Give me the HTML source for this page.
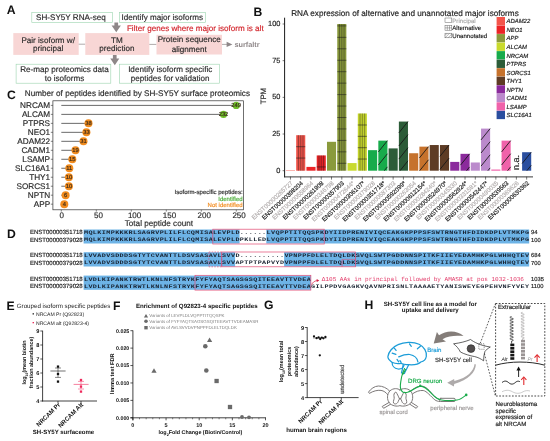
<!DOCTYPE html>
<html><head><meta charset="utf-8"><title>Figure</title>
<style>
html,body{margin:0;padding:0;background:#fff;}
body{width:550px;height:441px;overflow:hidden;font-family:"Liberation Sans",sans-serif;}
svg{display:block;font-family:"Liberation Sans",sans-serif;text-rendering:geometricPrecision;}
</style></head><body>
<svg width="550" height="441" viewBox="0 0 550 441">
<rect width="550" height="441" fill="#fff"/>
<g id="panelA">
<text x="6.70" y="13.80" font-size="12.2" fill="#111" font-weight="bold">A</text>
<rect x="31.80" y="12.60" width="80.80" height="9.80" fill="#fff" stroke="#9bd4ae" stroke-width="0.6"/>
<text x="70.90" y="20.10" font-size="8.1" text-anchor="middle" fill="#2a2a2a" stroke="#2a2a2a" stroke-width="0.16">SH-SY5Y RNA-seq</text>
<rect x="119.60" y="12.60" width="85.80" height="9.80" fill="#fff" stroke="#9bd4ae" stroke-width="0.6"/>
<text x="162.30" y="20.10" font-size="8.1" text-anchor="middle" fill="#2a2a2a" stroke="#2a2a2a" stroke-width="0.16">Identify major isoforms</text>
<path d="M114.4 22.6H118.1V25.6H120.9L116.25 32.2L111.6 25.6H114.4Z" fill="#8e8788"/>
<path d="M112.9 55H116.6V58.4H119.3L114.8 65.3L110.3 58.4H112.9Z" fill="#8e8788"/>
<text x="126.90" y="31.30" font-size="8.1" fill="#d2232a" stroke="#d2232a" stroke-width="0.16">Filter genes where major isoform is alt</text>
<rect x="13.30" y="33.10" width="65.40" height="21.80" fill="#f8d6d5"/>
<text x="48.20" y="42.50" font-size="8.1" text-anchor="middle" fill="#2a2a2a" stroke="#2a2a2a" stroke-width="0.16">Pair isoform w/</text>
<text x="48.20" y="51.20" font-size="8.1" text-anchor="middle" fill="#2a2a2a" stroke="#2a2a2a" stroke-width="0.16">principal</text>
<line x1="78.70" y1="44.20" x2="85.30" y2="44.20" stroke="#8e8788" stroke-width="0.7" />
<rect x="85.30" y="33.10" width="64.00" height="21.80" fill="#f8d6d5"/>
<text x="116.90" y="42.50" font-size="8.1" text-anchor="middle" fill="#2a2a2a" stroke="#2a2a2a" stroke-width="0.16">TM</text>
<text x="116.90" y="51.20" font-size="8.1" text-anchor="middle" fill="#2a2a2a" stroke="#2a2a2a" stroke-width="0.16">prediction</text>
<line x1="149.30" y1="44.40" x2="156.50" y2="44.40" stroke="#8e8788" stroke-width="0.7" />
<rect x="156.50" y="34.80" width="65.50" height="19.70" fill="#f8d6d5"/>
<text x="189.20" y="42.40" font-size="8.1" text-anchor="middle" fill="#2a2a2a" stroke="#2a2a2a" stroke-width="0.16">Protein sequence</text>
<text x="189.20" y="51.50" font-size="8.1" text-anchor="middle" fill="#2a2a2a" stroke="#2a2a2a" stroke-width="0.16">alignment</text>
<line x1="222.00" y1="44.40" x2="228.00" y2="44.40" stroke="#8e8788" stroke-width="0.7" />
<polygon points="226.6,41.8 232.4,44.4 226.6,47" fill="#8e8788"/>
<text x="234.50" y="46.70" font-size="7.3" fill="#8e8788" font-weight="bold">surfaltr</text>
<rect x="16.10" y="64.20" width="94.70" height="19.00" fill="#fff" stroke="#9bd4ae" stroke-width="0.6"/>
<text x="64.50" y="71.50" font-size="8.1" text-anchor="middle" fill="#2a2a2a" stroke="#2a2a2a" stroke-width="0.16">Re-map proteomics data</text>
<text x="64.50" y="80.60" font-size="8.1" text-anchor="middle" fill="#2a2a2a" stroke="#2a2a2a" stroke-width="0.16">to isoforms</text>
<rect x="119.40" y="64.20" width="100.00" height="19.00" fill="#fff" stroke="#9bd4ae" stroke-width="0.6"/>
<text x="170.20" y="71.50" font-size="8.1" text-anchor="middle" fill="#2a2a2a" stroke="#2a2a2a" stroke-width="0.16">Identify isoform specific</text>
<text x="170.20" y="80.60" font-size="8.1" text-anchor="middle" fill="#2a2a2a" stroke="#2a2a2a" stroke-width="0.16">peptides for validation</text>
</g>
<g id="panelB">
<text x="253.40" y="16.20" font-size="12.2" fill="#111" font-weight="bold">B</text>
<text x="291.20" y="15.50" font-size="8.2" fill="#222" stroke="#222" stroke-width="0.16">RNA expression of alternative and unannotated major isoforms</text>
<line x1="284.60" y1="17.70" x2="284.60" y2="177.30" stroke="#1a1a1a" stroke-width="1.0" />
<line x1="284.20" y1="176.90" x2="533.00" y2="176.90" stroke="#222" stroke-width="0.9" />
<line x1="282.60" y1="170.70" x2="284.60" y2="170.70" stroke="#222" stroke-width="0.6" />
<text x="280.40" y="172.80" font-size="7.4" text-anchor="end" fill="#222" stroke="#222" stroke-width="0.16">0</text>
<line x1="282.60" y1="134.02" x2="284.60" y2="134.02" stroke="#222" stroke-width="0.6" />
<text x="280.40" y="136.12" font-size="7.4" text-anchor="end" fill="#222" stroke="#222" stroke-width="0.16">25</text>
<line x1="282.60" y1="97.35" x2="284.60" y2="97.35" stroke="#222" stroke-width="0.6" />
<text x="280.40" y="99.45" font-size="7.4" text-anchor="end" fill="#222" stroke="#222" stroke-width="0.16">50</text>
<line x1="282.60" y1="60.67" x2="284.60" y2="60.67" stroke="#222" stroke-width="0.6" />
<text x="280.40" y="62.77" font-size="7.4" text-anchor="end" fill="#222" stroke="#222" stroke-width="0.16">75</text>
<line x1="282.60" y1="24.00" x2="284.60" y2="24.00" stroke="#222" stroke-width="0.6" />
<text x="280.40" y="26.10" font-size="7.4" text-anchor="end" fill="#222" stroke="#222" stroke-width="0.16">100</text>
<text x="266.10" y="96.10" font-size="7.8" text-anchor="middle" fill="#222" transform="rotate(-90 266.10 96.10)" stroke="#222" stroke-width="0.16">TPM</text>
<rect x="285.90" y="170.26" width="9.10" height="0.44" fill="#f4554b"/>
<line x1="290.45" y1="176.70" x2="290.45" y2="179.60" stroke="#222" stroke-width="0.6" />
<text x="293.25" y="183.60" font-size="6.1" text-anchor="end" fill="#b5b0b0" transform="rotate(-43 293.25 183.60)" stroke="#b5b0b0" stroke-width="0.16">ENST00000265727</text>
<rect x="296.17" y="135.20" width="9.10" height="35.50" fill="#f4554b"/>
<path d="M298.44 135.20V170.70M300.72 135.20V170.70M302.99 135.20V170.70" stroke="#1a1a1a" stroke-width="0.5" fill="none" opacity="0.8"/>
<path d="M297.31 135.20V170.70M299.58 135.20V170.70M301.86 135.20V170.70M304.13 135.20V170.70" stroke="#1a1a1a" stroke-width="0.4" fill="none" opacity="0.12"/>
<path d="M296.17 146.70H305.27M296.17 158.05H305.27" stroke="#1a1a1a" stroke-width="0.6" fill="none" opacity="0.9"/>
<line x1="300.72" y1="176.70" x2="300.72" y2="179.60" stroke="#222" stroke-width="0.6" />
<text x="303.52" y="183.60" font-size="6.1" text-anchor="end" fill="#222" transform="rotate(-43 303.52 183.60)" stroke="#222" stroke-width="0.16">ENST00000398204</text>
<rect x="306.44" y="166.89" width="9.10" height="3.81" fill="#ec2427"/>
<line x1="310.99" y1="176.70" x2="310.99" y2="179.60" stroke="#222" stroke-width="0.6" />
<text x="313.79" y="183.60" font-size="6.1" text-anchor="end" fill="#b5b0b0" transform="rotate(-43 313.79 183.60)" stroke="#b5b0b0" stroke-width="0.16">ENST00000558964</text>
<rect x="316.71" y="155.44" width="9.10" height="15.26" fill="#ec2427"/>
<path d="M318.98 155.44V170.70M321.26 155.44V170.70M323.53 155.44V170.70" stroke="#1a1a1a" stroke-width="0.5" fill="none" opacity="0.8"/>
<path d="M317.85 155.44V170.70M320.12 155.44V170.70M322.40 155.44V170.70M324.67 155.44V170.70" stroke="#1a1a1a" stroke-width="0.4" fill="none" opacity="0.12"/>
<path d="M316.71 166.94H325.81" stroke="#1a1a1a" stroke-width="0.6" fill="none" opacity="0.9"/>
<line x1="321.26" y1="176.70" x2="321.26" y2="179.60" stroke="#222" stroke-width="0.6" />
<text x="324.06" y="183.60" font-size="6.1" text-anchor="end" fill="#222" transform="rotate(-43 324.06 183.60)" stroke="#222" stroke-width="0.16">ENST00000261908</text>
<rect x="326.98" y="141.80" width="9.10" height="28.90" fill="#8a9a3c"/>
<line x1="331.53" y1="176.70" x2="331.53" y2="179.60" stroke="#222" stroke-width="0.6" />
<text x="334.33" y="183.60" font-size="6.1" text-anchor="end" fill="#b5b0b0" transform="rotate(-43 334.33 183.60)" stroke="#b5b0b0" stroke-width="0.16">ENST00000346798</text>
<rect x="337.25" y="24.00" width="9.10" height="146.70" fill="#8a9a3c"/>
<path d="M339.52 24.00V170.70M341.80 24.00V170.70M344.07 24.00V170.70" stroke="#1a1a1a" stroke-width="0.5" fill="none" opacity="0.8"/>
<path d="M338.39 24.00V170.70M340.66 24.00V170.70M342.94 24.00V170.70M345.21 24.00V170.70" stroke="#1a1a1a" stroke-width="0.4" fill="none" opacity="0.12"/>
<path d="M337.25 163.30H346.35M337.25 151.85H346.35M337.25 140.40H346.35M337.25 128.95H346.35M337.25 117.50H346.35M337.25 106.05H346.35M337.25 94.60H346.35M337.25 83.15H346.35M337.25 71.70H346.35M337.25 60.25H346.35M337.25 48.80H346.35M337.25 37.35H346.35M337.25 25.90H346.35" stroke="#1a1a1a" stroke-width="0.6" fill="none" opacity="0.9"/>
<line x1="341.80" y1="176.70" x2="341.80" y2="179.60" stroke="#222" stroke-width="0.6" />
<text x="344.60" y="183.60" font-size="6.1" text-anchor="end" fill="#222" transform="rotate(-43 344.60 183.60)" stroke="#222" stroke-width="0.16">ENST00000357903</text>
<rect x="347.52" y="163.07" width="9.10" height="7.63" fill="#c9da2d"/>
<line x1="352.07" y1="176.70" x2="352.07" y2="179.60" stroke="#222" stroke-width="0.6" />
<text x="354.87" y="183.60" font-size="6.1" text-anchor="end" fill="#b5b0b0" transform="rotate(-43 354.87 183.60)" stroke="#b5b0b0" stroke-width="0.16">ENST00000472644*</text>
<rect x="357.79" y="113.49" width="9.10" height="57.21" fill="#c9da2d"/>
<path d="M360.06 113.49V170.70M362.34 113.49V170.70M364.61 113.49V170.70" stroke="#1a1a1a" stroke-width="0.5" fill="none" opacity="0.8"/>
<path d="M358.93 113.49V170.70M361.20 113.49V170.70M363.48 113.49V170.70M365.75 113.49V170.70" stroke="#1a1a1a" stroke-width="0.4" fill="none" opacity="0.12"/>
<path d="M357.79 124.99H366.89M357.79 136.34H366.89M357.79 147.69H366.89M357.79 159.04H366.89" stroke="#1a1a1a" stroke-width="0.6" fill="none" opacity="0.9"/>
<line x1="362.34" y1="176.70" x2="362.34" y2="179.60" stroke="#222" stroke-width="0.6" />
<text x="365.14" y="183.60" font-size="6.1" text-anchor="end" fill="#222" transform="rotate(-43 365.14 183.60)" stroke="#222" stroke-width="0.16">ENST00000306107*</text>
<rect x="368.06" y="150.16" width="9.10" height="20.54" fill="#17ab4b"/>
<line x1="372.61" y1="176.70" x2="372.61" y2="179.60" stroke="#222" stroke-width="0.6" />
<text x="375.41" y="183.60" font-size="6.1" text-anchor="end" fill="#b5b0b0" transform="rotate(-43 375.41 183.60)" stroke="#b5b0b0" stroke-width="0.16">ENST00000379028</text>
<rect x="378.33" y="140.63" width="9.10" height="30.07" fill="#17ab4b"/>
<path d="M378.33 151.93L387.43 140.63M378.33 165.03L387.43 153.73M384.31 170.70L387.43 166.83" stroke="#151515" stroke-width="0.85" fill="none"/>
<line x1="382.88" y1="176.70" x2="382.88" y2="179.60" stroke="#222" stroke-width="0.6" />
<text x="385.68" y="183.60" font-size="6.1" text-anchor="end" fill="#222" transform="rotate(-43 385.68 183.60)" stroke="#222" stroke-width="0.16">ENST00000351718*</text>
<rect x="388.60" y="148.40" width="9.10" height="22.30" fill="#2c5c38"/>
<line x1="393.15" y1="176.70" x2="393.15" y2="179.60" stroke="#222" stroke-width="0.6" />
<text x="395.95" y="183.60" font-size="6.1" text-anchor="end" fill="#b5b0b0" transform="rotate(-43 395.95 183.60)" stroke="#b5b0b0" stroke-width="0.16">ENST00000587303</text>
<rect x="398.87" y="121.56" width="9.10" height="49.14" fill="#2c5c38"/>
<path d="M398.87 132.86L407.97 121.56M398.87 145.96L407.97 134.66M398.87 159.06L407.97 147.76M400.04 170.70L407.97 160.86" stroke="#151515" stroke-width="0.85" fill="none"/>
<line x1="403.42" y1="176.70" x2="403.42" y2="179.60" stroke="#222" stroke-width="0.6" />
<text x="406.22" y="183.60" font-size="6.1" text-anchor="end" fill="#222" transform="rotate(-43 406.22 183.60)" stroke="#222" stroke-width="0.16">ENST00000592099*</text>
<rect x="409.14" y="153.24" width="9.10" height="17.46" fill="#c6722c"/>
<line x1="413.69" y1="176.70" x2="413.69" y2="179.60" stroke="#222" stroke-width="0.6" />
<text x="416.49" y="183.60" font-size="6.1" text-anchor="end" fill="#b5b0b0" transform="rotate(-43 416.49 183.60)" stroke="#b5b0b0" stroke-width="0.16">ENST00000263054</text>
<rect x="419.41" y="146.64" width="9.10" height="24.06" fill="#c6722c"/>
<path d="M419.41 157.94L428.51 146.64M419.68 170.70L428.51 159.74" stroke="#151515" stroke-width="0.85" fill="none"/>
<line x1="423.96" y1="176.70" x2="423.96" y2="179.60" stroke="#222" stroke-width="0.6" />
<text x="426.76" y="183.60" font-size="6.1" text-anchor="end" fill="#222" transform="rotate(-43 426.76 183.60)" stroke="#222" stroke-width="0.16">ENST00000612154*</text>
<rect x="429.68" y="145.03" width="9.10" height="25.67" fill="#5e3c25"/>
<line x1="434.23" y1="176.70" x2="434.23" y2="179.60" stroke="#222" stroke-width="0.6" />
<text x="437.03" y="183.60" font-size="6.1" text-anchor="end" fill="#b5b0b0" transform="rotate(-43 437.03 183.60)" stroke="#b5b0b0" stroke-width="0.16">ENST00000284240*</text>
<rect x="439.95" y="145.03" width="9.10" height="25.67" fill="#5e3c25"/>
<path d="M439.95 156.33L449.05 145.03M439.95 169.43L449.05 158.13" stroke="#151515" stroke-width="0.85" fill="none"/>
<line x1="444.50" y1="176.70" x2="444.50" y2="179.60" stroke="#222" stroke-width="0.6" />
<text x="447.30" y="183.60" font-size="6.1" text-anchor="end" fill="#222" transform="rotate(-43 447.30 183.60)" stroke="#222" stroke-width="0.16">ENST00000524970*</text>
<rect x="450.22" y="161.90" width="9.10" height="8.80" fill="#8b2a9c"/>
<line x1="454.77" y1="176.70" x2="454.77" y2="179.60" stroke="#222" stroke-width="0.6" />
<text x="457.57" y="183.60" font-size="6.1" text-anchor="end" fill="#b5b0b0" transform="rotate(-43 457.57 183.60)" stroke="#b5b0b0" stroke-width="0.16">ENST00000345330</text>
<rect x="460.49" y="153.83" width="9.10" height="16.87" fill="#8b2a9c"/>
<path d="M460.49 165.13L469.59 153.83M466.55 170.70L469.59 166.93" stroke="#151515" stroke-width="0.85" fill="none"/>
<line x1="465.04" y1="176.70" x2="465.04" y2="179.60" stroke="#222" stroke-width="0.6" />
<text x="467.84" y="183.60" font-size="6.1" text-anchor="end" fill="#222" transform="rotate(-43 467.84 183.60)" stroke="#222" stroke-width="0.16">ENST00000562924*</text>
<rect x="470.76" y="162.48" width="9.10" height="8.22" fill="#bb8acc"/>
<line x1="475.31" y1="176.70" x2="475.31" y2="179.60" stroke="#222" stroke-width="0.6" />
<text x="478.11" y="183.60" font-size="6.1" text-anchor="end" fill="#b5b0b0" transform="rotate(-43 478.11 183.60)" stroke="#b5b0b0" stroke-width="0.16">ENST00000331581*</text>
<rect x="481.03" y="128.60" width="9.10" height="42.10" fill="#bb8acc"/>
<path d="M481.03 139.90L490.13 128.60M481.03 153.00L490.13 141.70M481.03 166.10L490.13 154.80M487.87 170.70L490.13 167.90" stroke="#151515" stroke-width="0.85" fill="none"/>
<line x1="485.58" y1="176.70" x2="485.58" y2="179.60" stroke="#222" stroke-width="0.6" />
<text x="488.38" y="183.60" font-size="6.1" text-anchor="end" fill="#222" transform="rotate(-43 488.38 183.60)" stroke="#222" stroke-width="0.16">ENST00000542447*</text>
<rect x="491.30" y="169.53" width="9.10" height="1.17" fill="#f062aa"/>
<line x1="495.85" y1="176.70" x2="495.85" y2="179.60" stroke="#222" stroke-width="0.6" />
<text x="498.65" y="183.60" font-size="6.1" text-anchor="end" fill="#b5b0b0" transform="rotate(-43 498.65 183.60)" stroke="#b5b0b0" stroke-width="0.16">ENST00000490035</text>
<rect x="501.57" y="140.63" width="9.10" height="30.07" fill="#f062aa"/>
<path d="M501.57 151.93L510.67 140.63M501.57 165.03L510.67 153.73M507.55 170.70L510.67 166.83" stroke="#151515" stroke-width="0.85" fill="none"/>
<line x1="506.12" y1="176.70" x2="506.12" y2="179.60" stroke="#222" stroke-width="0.6" />
<text x="508.92" y="183.60" font-size="6.1" text-anchor="end" fill="#222" transform="rotate(-43 508.92 183.60)" stroke="#222" stroke-width="0.16">ENST00000539563</text>
<text x="518.99" y="170.00" font-size="9" fill="#222" transform="rotate(-90 518.99 170.00)" stroke="#222" stroke-width="0.16">n.a.</text>
<line x1="516.39" y1="176.70" x2="516.39" y2="179.60" stroke="#222" stroke-width="0.6" />
<text x="519.19" y="183.60" font-size="6.1" text-anchor="end" fill="#b5b0b0" transform="rotate(-43 519.19 183.60)" stroke="#b5b0b0" stroke-width="0.16">ENST00000369626</text>
<rect x="522.11" y="152.22" width="9.10" height="18.48" fill="#2a4e9f"/>
<path d="M522.11 163.52L531.21 152.22M526.87 170.70L531.21 165.32" stroke="#151515" stroke-width="0.85" fill="none"/>
<line x1="526.66" y1="176.70" x2="526.66" y2="179.60" stroke="#222" stroke-width="0.6" />
<text x="529.46" y="183.60" font-size="6.1" text-anchor="end" fill="#222" transform="rotate(-43 529.46 183.60)" stroke="#222" stroke-width="0.16">ENST00000630362</text>
<rect x="445.00" y="18.00" width="6.80" height="4.60" fill="#fff" stroke="#555" stroke-width="0.45"/>
<text x="452.30" y="22.60" font-size="6.1" fill="#aaa" stroke="#aaa" stroke-width="0.16">Principal</text>
<rect x="445.00" y="25.60" width="6.80" height="4.60" fill="#fff" stroke="#555" stroke-width="0.45"/>
<path d="M447.3 25.6v4.6M449.5 25.6v4.6M445 27.900000000000002h6.8" stroke="#444" stroke-width="0.4" fill="none"/>
<text x="452.30" y="30.20" font-size="6.1" fill="#222" stroke="#222" stroke-width="0.16">Alternative</text>
<rect x="445.00" y="33.20" width="6.80" height="4.60" fill="#fff" stroke="#555" stroke-width="0.45"/>
<path d="M445 37.800000000000004L449.6 33.2M448 37.800000000000004L451.8 34.0M445 35.400000000000006L447.2 33.2" stroke="#444" stroke-width="0.4" fill="none"/>
<text x="452.30" y="37.80" font-size="6.1" fill="#222" stroke="#222" stroke-width="0.16">Unannotated</text>
<rect x="496.60" y="17.00" width="8.40" height="8.30" fill="#f4554b"/>
<text x="506.60" y="23.40" font-size="5.9" fill="#1a1a1a" font-style="italic" stroke="#1a1a1a" stroke-width="0.16">ADAM22</text>
<rect x="496.60" y="25.53" width="8.40" height="8.30" fill="#ec2427"/>
<text x="506.60" y="31.93" font-size="5.9" fill="#1a1a1a" font-style="italic" stroke="#1a1a1a" stroke-width="0.16">NEO1</text>
<rect x="496.60" y="34.06" width="8.40" height="8.30" fill="#8a9a3c"/>
<text x="506.60" y="40.46" font-size="5.9" fill="#1a1a1a" font-style="italic" stroke="#1a1a1a" stroke-width="0.16">APP</text>
<rect x="496.60" y="42.59" width="8.40" height="8.30" fill="#c9da2d"/>
<text x="506.60" y="48.99" font-size="5.9" fill="#1a1a1a" font-style="italic" stroke="#1a1a1a" stroke-width="0.16">ALCAM</text>
<rect x="496.60" y="51.12" width="8.40" height="8.30" fill="#17ab4b"/>
<text x="506.60" y="57.52" font-size="5.9" fill="#1a1a1a" font-style="italic" stroke="#1a1a1a" stroke-width="0.16">NRCAM</text>
<rect x="496.60" y="59.65" width="8.40" height="8.30" fill="#2c5c38"/>
<text x="506.60" y="66.05" font-size="5.9" fill="#1a1a1a" font-style="italic" stroke="#1a1a1a" stroke-width="0.16">PTPRS</text>
<rect x="496.60" y="68.18" width="8.40" height="8.30" fill="#c6722c"/>
<text x="506.60" y="74.58" font-size="5.9" fill="#1a1a1a" font-style="italic" stroke="#1a1a1a" stroke-width="0.16">SORCS1</text>
<rect x="496.60" y="76.71" width="8.40" height="8.30" fill="#5e3c25"/>
<text x="506.60" y="83.11" font-size="5.9" fill="#1a1a1a" font-style="italic" stroke="#1a1a1a" stroke-width="0.16">THY1</text>
<rect x="496.60" y="85.24" width="8.40" height="8.30" fill="#8b2a9c"/>
<text x="506.60" y="91.64" font-size="5.9" fill="#1a1a1a" font-style="italic" stroke="#1a1a1a" stroke-width="0.16">NPTN</text>
<rect x="496.60" y="93.77" width="8.40" height="8.30" fill="#bb8acc"/>
<text x="506.60" y="100.17" font-size="5.9" fill="#1a1a1a" font-style="italic" stroke="#1a1a1a" stroke-width="0.16">CADM1</text>
<rect x="496.60" y="102.30" width="8.40" height="8.30" fill="#f062aa"/>
<text x="506.60" y="108.70" font-size="5.9" fill="#1a1a1a" font-style="italic" stroke="#1a1a1a" stroke-width="0.16">LSAMP</text>
<rect x="496.60" y="110.83" width="8.40" height="8.30" fill="#2a4e9f"/>
<text x="506.60" y="117.23" font-size="5.9" fill="#1a1a1a" font-style="italic" stroke="#1a1a1a" stroke-width="0.16">SLC16A1</text>
</g>
<g id="panelC">
<text x="7.10" y="99.00" font-size="12.2" fill="#111" font-weight="bold">C</text>
<text x="24.80" y="96.30" font-size="8.17" fill="#2a2a2a" stroke="#2a2a2a" stroke-width="0.16">Number of peptides identified by SH-SY5Y surface proteomics</text>
<rect x="52.90" y="100.80" width="190.60" height="109.00" fill="#fff" stroke="#333" stroke-width="0.7"/>
<text x="50.10" y="108.00" font-size="8.2" text-anchor="end" fill="#2a2a2a" stroke="#2a2a2a" stroke-width="0.16">NRCAM</text>
<line x1="50.80" y1="105.40" x2="52.90" y2="105.40" stroke="#333" stroke-width="0.6" />
<line x1="61.30" y1="105.40" x2="236.20" y2="105.40" stroke="#444" stroke-width="0.8" />
<circle cx="236.20" cy="105.40" r="3.6" fill="#6fbe2a"/>
<text x="236.20" y="107.45" font-size="5.8" text-anchor="middle" fill="#3a2a18" stroke="#3a2a18" stroke-width="0.16">249</text>
<text x="50.10" y="116.98" font-size="8.2" text-anchor="end" fill="#2a2a2a" stroke="#2a2a2a" stroke-width="0.16">ALCAM</text>
<line x1="50.80" y1="114.38" x2="52.90" y2="114.38" stroke="#333" stroke-width="0.6" />
<line x1="61.30" y1="114.38" x2="223.50" y2="114.38" stroke="#444" stroke-width="0.8" />
<circle cx="223.50" cy="114.38" r="3.6" fill="#6fbe2a"/>
<text x="223.50" y="116.43" font-size="5.8" text-anchor="middle" fill="#3a2a18" stroke="#3a2a18" stroke-width="0.16">232</text>
<text x="50.10" y="125.96" font-size="8.2" text-anchor="end" fill="#2a2a2a" stroke="#2a2a2a" stroke-width="0.16">PTPRS</text>
<line x1="50.80" y1="123.36" x2="52.90" y2="123.36" stroke="#333" stroke-width="0.6" />
<line x1="61.30" y1="123.36" x2="88.50" y2="123.36" stroke="#444" stroke-width="0.8" />
<circle cx="88.50" cy="123.36" r="4.0" fill="#f28c1e"/>
<text x="88.50" y="125.41" font-size="5.8" text-anchor="middle" fill="#3a2a18" stroke="#3a2a18" stroke-width="0.16">38</text>
<text x="50.10" y="134.94" font-size="8.2" text-anchor="end" fill="#2a2a2a" stroke="#2a2a2a" stroke-width="0.16">NEO1</text>
<line x1="50.80" y1="132.34" x2="52.90" y2="132.34" stroke="#333" stroke-width="0.6" />
<line x1="61.30" y1="132.34" x2="86.40" y2="132.34" stroke="#444" stroke-width="0.8" />
<circle cx="86.40" cy="132.34" r="4.0" fill="#f28c1e"/>
<text x="86.40" y="134.39" font-size="5.8" text-anchor="middle" fill="#3a2a18" stroke="#3a2a18" stroke-width="0.16">33</text>
<text x="50.10" y="143.92" font-size="8.2" text-anchor="end" fill="#2a2a2a" stroke="#2a2a2a" stroke-width="0.16">ADAM22</text>
<line x1="50.80" y1="141.32" x2="52.90" y2="141.32" stroke="#333" stroke-width="0.6" />
<line x1="61.30" y1="141.32" x2="83.50" y2="141.32" stroke="#444" stroke-width="0.8" />
<circle cx="83.50" cy="141.32" r="4.0" fill="#f28c1e"/>
<text x="83.50" y="143.37" font-size="5.8" text-anchor="middle" fill="#3a2a18" stroke="#3a2a18" stroke-width="0.16">31</text>
<text x="50.10" y="152.90" font-size="8.2" text-anchor="end" fill="#2a2a2a" stroke="#2a2a2a" stroke-width="0.16">CADM1</text>
<line x1="50.80" y1="150.30" x2="52.90" y2="150.30" stroke="#333" stroke-width="0.6" />
<line x1="61.30" y1="150.30" x2="75.50" y2="150.30" stroke="#444" stroke-width="0.8" />
<circle cx="75.50" cy="150.30" r="4.0" fill="#f28c1e"/>
<text x="75.50" y="152.35" font-size="5.8" text-anchor="middle" fill="#3a2a18" stroke="#3a2a18" stroke-width="0.16">19</text>
<text x="50.10" y="161.88" font-size="8.2" text-anchor="end" fill="#2a2a2a" stroke="#2a2a2a" stroke-width="0.16">LSAMP</text>
<line x1="50.80" y1="159.28" x2="52.90" y2="159.28" stroke="#333" stroke-width="0.6" />
<line x1="61.30" y1="159.28" x2="72.30" y2="159.28" stroke="#444" stroke-width="0.8" />
<circle cx="72.30" cy="159.28" r="4.0" fill="#f28c1e"/>
<text x="72.30" y="161.33" font-size="5.8" text-anchor="middle" fill="#3a2a18" stroke="#3a2a18" stroke-width="0.16">15</text>
<text x="50.10" y="170.86" font-size="8.2" text-anchor="end" fill="#2a2a2a" stroke="#2a2a2a" stroke-width="0.16">SLC16A1</text>
<line x1="50.80" y1="168.26" x2="52.90" y2="168.26" stroke="#333" stroke-width="0.6" />
<line x1="61.30" y1="168.26" x2="69.30" y2="168.26" stroke="#444" stroke-width="0.8" />
<circle cx="69.30" cy="168.26" r="4.0" fill="#f28c1e"/>
<text x="69.30" y="170.31" font-size="5.8" text-anchor="middle" fill="#3a2a18" stroke="#3a2a18" stroke-width="0.16">11</text>
<text x="50.10" y="179.84" font-size="8.2" text-anchor="end" fill="#2a2a2a" stroke="#2a2a2a" stroke-width="0.16">THY1</text>
<line x1="50.80" y1="177.24" x2="52.90" y2="177.24" stroke="#333" stroke-width="0.6" />
<line x1="61.30" y1="177.24" x2="68.90" y2="177.24" stroke="#444" stroke-width="0.8" />
<circle cx="68.90" cy="177.24" r="4.0" fill="#f28c1e"/>
<text x="68.90" y="179.29" font-size="5.8" text-anchor="middle" fill="#3a2a18" stroke="#3a2a18" stroke-width="0.16">10</text>
<text x="50.10" y="188.82" font-size="8.2" text-anchor="end" fill="#2a2a2a" stroke="#2a2a2a" stroke-width="0.16">SORCS1</text>
<line x1="50.80" y1="186.22" x2="52.90" y2="186.22" stroke="#333" stroke-width="0.6" />
<line x1="61.30" y1="186.22" x2="68.90" y2="186.22" stroke="#444" stroke-width="0.8" />
<circle cx="68.90" cy="186.22" r="4.0" fill="#f28c1e"/>
<text x="68.90" y="188.27" font-size="5.8" text-anchor="middle" fill="#3a2a18" stroke="#3a2a18" stroke-width="0.16">10</text>
<text x="50.10" y="197.80" font-size="8.2" text-anchor="end" fill="#2a2a2a" stroke="#2a2a2a" stroke-width="0.16">NPTN</text>
<line x1="50.80" y1="195.20" x2="52.90" y2="195.20" stroke="#333" stroke-width="0.6" />
<line x1="61.30" y1="195.20" x2="65.60" y2="195.20" stroke="#444" stroke-width="0.8" />
<circle cx="65.60" cy="195.20" r="4.0" fill="#f28c1e"/>
<text x="65.60" y="197.25" font-size="5.8" text-anchor="middle" fill="#3a2a18" stroke="#3a2a18" stroke-width="0.16">6</text>
<text x="50.10" y="206.78" font-size="8.2" text-anchor="end" fill="#2a2a2a" stroke="#2a2a2a" stroke-width="0.16">APP</text>
<line x1="50.80" y1="204.18" x2="52.90" y2="204.18" stroke="#333" stroke-width="0.6" />
<line x1="61.30" y1="204.18" x2="64.30" y2="204.18" stroke="#444" stroke-width="0.8" />
<circle cx="64.30" cy="204.18" r="4.0" fill="#f28c1e"/>
<text x="64.30" y="206.23" font-size="5.8" text-anchor="middle" fill="#3a2a18" stroke="#3a2a18" stroke-width="0.16">4</text>
<line x1="61.30" y1="209.80" x2="61.30" y2="211.60" stroke="#333" stroke-width="0.6" />
<text x="61.80" y="218.40" font-size="8" text-anchor="middle" fill="#2a2a2a" stroke="#2a2a2a" stroke-width="0.16">0</text>
<line x1="96.30" y1="209.80" x2="96.30" y2="211.60" stroke="#333" stroke-width="0.6" />
<text x="98.50" y="218.40" font-size="8" text-anchor="middle" fill="#2a2a2a" stroke="#2a2a2a" stroke-width="0.16">50</text>
<line x1="131.30" y1="209.80" x2="131.30" y2="211.60" stroke="#333" stroke-width="0.6" />
<text x="134.60" y="218.40" font-size="8" text-anchor="middle" fill="#2a2a2a" stroke="#2a2a2a" stroke-width="0.16">100</text>
<line x1="166.30" y1="209.80" x2="166.30" y2="211.60" stroke="#333" stroke-width="0.6" />
<text x="169.50" y="218.40" font-size="8" text-anchor="middle" fill="#2a2a2a" stroke="#2a2a2a" stroke-width="0.16">150</text>
<line x1="201.30" y1="209.80" x2="201.30" y2="211.60" stroke="#333" stroke-width="0.6" />
<text x="204.20" y="218.40" font-size="8" text-anchor="middle" fill="#2a2a2a" stroke="#2a2a2a" stroke-width="0.16">200</text>
<line x1="236.30" y1="209.80" x2="236.30" y2="211.60" stroke="#333" stroke-width="0.6" />
<text x="239.10" y="218.40" font-size="8" text-anchor="middle" fill="#2a2a2a" stroke="#2a2a2a" stroke-width="0.16">250</text>
<text x="158.90" y="225.60" font-size="8.15" text-anchor="middle" fill="#2a2a2a" stroke="#2a2a2a" stroke-width="0.16">Total peptide count</text>
<text x="242.60" y="194.20" font-size="6.0" text-anchor="end" fill="#2a2a2a" stroke="#2a2a2a" stroke-width="0.16">Isoform-specific peptides:</text>
<text x="242.60" y="200.80" font-size="6.0" text-anchor="end" fill="#4cae3a" stroke="#4cae3a" stroke-width="0.16">Identified</text>
<text x="242.60" y="207.30" font-size="6.0" text-anchor="end" fill="#f28c1e" stroke="#f28c1e" stroke-width="0.16">Not identified</text>
</g>
<g id="panelD">
<text x="7.00" y="238.00" font-size="12.2" fill="#111" font-weight="bold">D</text>
<rect x="83.60" y="229.50" width="155.96" height="14.00" fill="#6db3e6"/>
<rect x="266.30" y="229.50" width="262.90" height="14.00" fill="#6db3e6"/>
<rect x="83.60" y="252.20" width="151.50" height="14.30" fill="#6db3e6"/>
<rect x="284.12" y="252.20" width="245.08" height="14.30" fill="#6db3e6"/>
<rect x="83.60" y="275.60" width="227.26" height="14.20" fill="#6db3e6"/>
<text x="30.00" y="234.30" font-size="6.0" fill="#222" stroke="#222" stroke-width="0.16">ENST00000351718</text>
<text transform="translate(83.95 233.90) scale(1.28 1)" font-family="Liberation Mono, monospace" font-weight="bold" font-size="5.3" letter-spacing="0.301" fill="#16202e" xml:space="preserve">MQLKIMPKKKRLSAGRVPLILFLCQMISALEVPLD......LVQPPTITQQSPKDYIIDPRENIVIQCEAKGKPPPSFSWTRNGTHFDIDKDPLVTMKPG</text>
<text x="531.00" y="234.30" font-size="5.8" fill="#222" stroke="#222" stroke-width="0.16">94</text>
<text x="30.00" y="241.60" font-size="6.0" fill="#222" stroke="#222" stroke-width="0.16">ENST00000379028</text>
<text transform="translate(83.95 241.20) scale(1.28 1)" font-family="Liberation Mono, monospace" font-weight="bold" font-size="5.3" letter-spacing="0.301" fill="#16202e" xml:space="preserve">MQLKIMPKKKRLSAGRVPLILFLCQMISALEVPLDPKLLEDLVQPPTITQQSPKDYIIDPRENIVIQCEAKGKPPPSFSWTRNGTHFDIDKDPLVTMKPG</text>
<text x="531.00" y="241.60" font-size="5.8" fill="#222" stroke="#222" stroke-width="0.16">100</text>
<text x="30.00" y="257.30" font-size="6.0" fill="#222" stroke="#222" stroke-width="0.16">ENST00000351718</text>
<text transform="translate(83.95 256.90) scale(1.28 1)" font-family="Liberation Mono, monospace" font-weight="bold" font-size="5.3" letter-spacing="0.301" fill="#16202e" xml:space="preserve">LVVADVSDDDSGTYTCVANTTLDSVSASAVLSVVD..........VPNPPFDLELTDQLDKSVQLSWTPGDDNNSPITKFIIEYEDAMHKPGLWHHQTEV</text>
<text x="531.00" y="257.30" font-size="5.8" fill="#222" stroke="#222" stroke-width="0.16">684</text>
<text x="30.00" y="264.60" font-size="6.0" fill="#222" stroke="#222" stroke-width="0.16">ENST00000379028</text>
<text transform="translate(83.95 264.20) scale(1.28 1)" font-family="Liberation Mono, monospace" font-weight="bold" font-size="5.3" letter-spacing="0.301" fill="#16202e" xml:space="preserve">LVVADVSDDDSGTYTCVANTTLDSVSASAVLSVVAPTPTPAPVYDVPNPPFDLELTDQLDKSVQLSWTPGDDNNSPITKFIIEYEDAMHKPGLWHHQTEV</text>
<text x="531.00" y="264.60" font-size="5.8" fill="#222" stroke="#222" stroke-width="0.16">700</text>
<text x="30.00" y="280.90" font-size="6.0" fill="#222" stroke="#222" stroke-width="0.16">ENST00000351718</text>
<text transform="translate(83.95 280.50) scale(1.28 1)" font-family="Liberation Mono, monospace" font-weight="bold" font-size="5.3" letter-spacing="0.301" fill="#16202e" xml:space="preserve">LVDLKIPANKTRWTLKNLNFSTRYKFYFYAQTSAGSGSQITEEAVTTVDEA</text>
<text x="531.00" y="280.90" font-size="5.8" fill="#222" stroke="#222" stroke-width="0.16">1035</text>
<text x="30.00" y="288.20" font-size="6.0" fill="#222" stroke="#222" stroke-width="0.16">ENST00000379028</text>
<text transform="translate(83.95 287.80) scale(1.28 1)" font-family="Liberation Mono, monospace" font-weight="bold" font-size="5.3" letter-spacing="0.301" fill="#16202e" xml:space="preserve">LVDLKIPANKTRWTLKNLNFSTRYKFYFYAQTSAGSGSQITEEAVTTVDEAGILPPDVGAGKVQAVNPRISNLTAAAAETYANISWEYEGPEHVNFYVEY</text>
<text x="531.00" y="288.20" font-size="5.8" fill="#222" stroke="#222" stroke-width="0.16">1100</text>
<rect x="212.82" y="229.20" width="111.40" height="14.80" fill="none" stroke="#e24a72" stroke-width="0.7"/>
<rect x="208.87" y="252.00" width="12.87" height="14.80" fill="none" stroke="#e24a72" stroke-width="0.7" stroke-dasharray="1.6 1.2"/>
<rect x="221.74" y="252.00" width="133.68" height="14.80" fill="none" stroke="#e24a72" stroke-width="0.7"/>
<line x1="342.05" y1="259.40" x2="342.05" y2="266.80" stroke="#e24a72" stroke-width="0.7" />
<line x1="342.05" y1="259.40" x2="355.42" y2="259.40" stroke="#e24a72" stroke-width="0.5" />
<rect x="195.00" y="275.30" width="115.86" height="14.80" fill="none" stroke="#e24a72" stroke-width="0.7"/>
<path d="M311.6 284.8C312.5 282.3 314.5 281 317 280.6" stroke="#d8193f" stroke-width="0.7" fill="none"/>
<polygon points="316.6,279.1 319.3,280.4 316.8,282.1" fill="#d8193f"/>
<text x="321.8" y="280.5" font-family="Liberation Mono, monospace" font-size="6.03" fill="#e23a68" xml:space="preserve">Δ105 AAs in principal followed by AMASR at pos 1032-1036</text>
</g>
<g id="panelE">
<text x="6.50" y="309.70" font-size="12.2" fill="#111" font-weight="bold">E</text>
<text x="16.80" y="307.70" font-size="6.2" fill="#222" font-weight="normal">Grouped isoform specific peptides</text>
<rect x="32.60" y="313.20" width="1.30" height="1.30" fill="#111"/>
<text x="36.00" y="316.00" font-size="5.1" fill="#222">NRCAM Pr (Q92823)</text>
<rect x="32.60" y="322.00" width="1.30" height="1.30" fill="#e8174b"/>
<text x="36.00" y="324.80" font-size="5.1" fill="#222">NRCAM alt (Q92823-4)</text>
<line x1="42.60" y1="330.70" x2="42.60" y2="401.40" stroke="#111" stroke-width="0.8" />
<line x1="42.20" y1="401.00" x2="97.00" y2="401.00" stroke="#111" stroke-width="0.8" />
<line x1="40.30" y1="401.00" x2="42.60" y2="401.00" stroke="#111" stroke-width="0.7" />
<text x="39.40" y="403.00" font-size="5.6" text-anchor="end" fill="#111" font-weight="bold">4</text>
<line x1="40.30" y1="387.00" x2="42.60" y2="387.00" stroke="#111" stroke-width="0.7" />
<text x="39.40" y="389.00" font-size="5.6" text-anchor="end" fill="#111" font-weight="bold">5</text>
<line x1="40.30" y1="373.00" x2="42.60" y2="373.00" stroke="#111" stroke-width="0.7" />
<text x="39.40" y="375.00" font-size="5.6" text-anchor="end" fill="#111" font-weight="bold">6</text>
<line x1="40.30" y1="359.00" x2="42.60" y2="359.00" stroke="#111" stroke-width="0.7" />
<text x="39.40" y="361.00" font-size="5.6" text-anchor="end" fill="#111" font-weight="bold">7</text>
<line x1="40.30" y1="345.00" x2="42.60" y2="345.00" stroke="#111" stroke-width="0.7" />
<text x="39.40" y="347.00" font-size="5.6" text-anchor="end" fill="#111" font-weight="bold">8</text>
<line x1="40.30" y1="331.00" x2="42.60" y2="331.00" stroke="#111" stroke-width="0.7" />
<text x="39.40" y="333.00" font-size="5.6" text-anchor="end" fill="#111" font-weight="bold">9</text>
<line x1="58.00" y1="401.00" x2="58.00" y2="403.50" stroke="#111" stroke-width="0.7" />
<line x1="81.00" y1="401.00" x2="81.00" y2="403.50" stroke="#111" stroke-width="0.7" />
<text transform="translate(26.3 362.5) rotate(-90)" font-size="5.4" font-weight="bold" fill="#111" text-anchor="middle">log<tspan font-size="3.6" dy="1.2">10</tspan><tspan dy="-1.2">(mean biotin</tspan></text>
<text x="33.20" y="362.50" font-size="5.4" text-anchor="middle" fill="#111" font-weight="bold" transform="rotate(-90 33.20 362.50)">fraction abundance)</text>
<rect x="56.85" y="365.45" width="2.30" height="2.30" fill="#111"/>
<rect x="56.85" y="372.85" width="2.30" height="2.30" fill="#111"/>
<rect x="56.85" y="380.45" width="2.30" height="2.30" fill="#111"/>
<line x1="50.40" y1="371.00" x2="65.60" y2="371.00" stroke="#111" stroke-width="0.6" />
<line x1="58.00" y1="368.00" x2="58.00" y2="377.40" stroke="#111" stroke-width="0.5" />
<line x1="55.00" y1="368.00" x2="61.00" y2="368.00" stroke="#111" stroke-width="0.5" />
<line x1="55.00" y1="377.40" x2="61.00" y2="377.40" stroke="#111" stroke-width="0.5" />
<rect x="79.85" y="378.85" width="2.30" height="2.30" fill="#ee2a5c"/>
<rect x="79.85" y="385.45" width="2.30" height="2.30" fill="#ee2a5c"/>
<rect x="79.85" y="390.45" width="2.30" height="2.30" fill="#ee2a5c"/>
<line x1="73.60" y1="384.40" x2="88.60" y2="384.40" stroke="#ee2a5c" stroke-width="0.6" />
<line x1="81.00" y1="381.40" x2="81.00" y2="389.00" stroke="#ee2a5c" stroke-width="0.5" />
<line x1="78.00" y1="381.40" x2="84.00" y2="381.40" stroke="#ee2a5c" stroke-width="0.5" />
<line x1="78.00" y1="389.00" x2="84.00" y2="389.00" stroke="#ee2a5c" stroke-width="0.5" />
<text x="60.60" y="405.20" font-size="6.1" text-anchor="end" fill="#111" font-weight="bold" transform="rotate(-45 60.60 405.20)">NRCAM Pr</text>
<text x="83.60" y="405.20" font-size="6.1" text-anchor="end" fill="#111" font-weight="bold" transform="rotate(-45 83.60 405.20)">NRCAM Alt</text>
<text x="63.50" y="434.20" font-size="6.05" text-anchor="middle" fill="#111" font-weight="bold">SH-SY5Y surfaceome</text>
</g>
<g id="panelF">
<text x="113.10" y="309.70" font-size="12.2" fill="#111" font-weight="bold">F</text>
<text x="196.80" y="308.20" font-size="6.15" text-anchor="middle" fill="#111" font-weight="bold">Enrichment of Q92823-4 specific peptides</text>
<polygon points="146.00,313.90 148.10,317.50 143.90,317.50" fill="#6a6a6a"/>
<text x="149.30" y="317.30" font-size="4.4" fill="#7e7e7e">Variants of LEVPLDLVQPPTITQQSPK</text>
<circle cx="146.00" cy="321.30" r="1.8" fill="#6a6a6a"/>
<text x="149.30" y="322.90" font-size="4.4" fill="#7e7e7e">Variants of FYFYAQTSAGSGSQITEEAVTTVDEAMASR</text>
<rect x="144.30" y="326.00" width="3.40" height="3.40" fill="#6a6a6a"/>
<text x="149.30" y="329.30" font-size="4.4" fill="#7e7e7e">Variants of AVLSVVDVPNPPFDLELTDQLDK</text>
<line x1="132.90" y1="330.40" x2="132.90" y2="420.30" stroke="#111" stroke-width="0.8" />
<line x1="130.40" y1="417.80" x2="266.00" y2="417.80" stroke="#111" stroke-width="0.8" />
<line x1="130.40" y1="417.80" x2="132.90" y2="417.80" stroke="#111" stroke-width="0.7" />
<text x="129.30" y="419.70" font-size="5.3" text-anchor="end" fill="#111" font-weight="bold">0.000</text>
<line x1="130.40" y1="400.38" x2="132.90" y2="400.38" stroke="#111" stroke-width="0.7" />
<text x="129.30" y="402.28" font-size="5.3" text-anchor="end" fill="#111" font-weight="bold">0.005</text>
<line x1="130.40" y1="382.96" x2="132.90" y2="382.96" stroke="#111" stroke-width="0.7" />
<text x="129.30" y="384.86" font-size="5.3" text-anchor="end" fill="#111" font-weight="bold">0.010</text>
<line x1="130.40" y1="365.54" x2="132.90" y2="365.54" stroke="#111" stroke-width="0.7" />
<text x="129.30" y="367.44" font-size="5.3" text-anchor="end" fill="#111" font-weight="bold">0.015</text>
<line x1="130.40" y1="348.12" x2="132.90" y2="348.12" stroke="#111" stroke-width="0.7" />
<text x="129.30" y="350.02" font-size="5.3" text-anchor="end" fill="#111" font-weight="bold">0.020</text>
<line x1="130.40" y1="330.70" x2="132.90" y2="330.70" stroke="#111" stroke-width="0.7" />
<text x="129.30" y="332.60" font-size="5.3" text-anchor="end" fill="#111" font-weight="bold">0.025</text>
<line x1="139.53" y1="417.80" x2="139.53" y2="419.30" stroke="#111" stroke-width="0.5" />
<line x1="146.16" y1="417.80" x2="146.16" y2="419.30" stroke="#111" stroke-width="0.5" />
<line x1="152.79" y1="417.80" x2="152.79" y2="419.30" stroke="#111" stroke-width="0.5" />
<line x1="159.42" y1="417.80" x2="159.42" y2="419.30" stroke="#111" stroke-width="0.5" />
<line x1="172.68" y1="417.80" x2="172.68" y2="419.30" stroke="#111" stroke-width="0.5" />
<line x1="179.31" y1="417.80" x2="179.31" y2="419.30" stroke="#111" stroke-width="0.5" />
<line x1="185.94" y1="417.80" x2="185.94" y2="419.30" stroke="#111" stroke-width="0.5" />
<line x1="192.57" y1="417.80" x2="192.57" y2="419.30" stroke="#111" stroke-width="0.5" />
<line x1="205.83" y1="417.80" x2="205.83" y2="419.30" stroke="#111" stroke-width="0.5" />
<line x1="212.46" y1="417.80" x2="212.46" y2="419.30" stroke="#111" stroke-width="0.5" />
<line x1="219.09" y1="417.80" x2="219.09" y2="419.30" stroke="#111" stroke-width="0.5" />
<line x1="225.72" y1="417.80" x2="225.72" y2="419.30" stroke="#111" stroke-width="0.5" />
<line x1="238.98" y1="417.80" x2="238.98" y2="419.30" stroke="#111" stroke-width="0.5" />
<line x1="245.61" y1="417.80" x2="245.61" y2="419.30" stroke="#111" stroke-width="0.5" />
<line x1="252.24" y1="417.80" x2="252.24" y2="419.30" stroke="#111" stroke-width="0.5" />
<line x1="258.87" y1="417.80" x2="258.87" y2="419.30" stroke="#111" stroke-width="0.5" />
<line x1="132.90" y1="417.80" x2="132.90" y2="420.30" stroke="#111" stroke-width="0.7" />
<text x="132.90" y="427.10" font-size="5.5" text-anchor="middle" fill="#111" font-weight="bold">0</text>
<line x1="166.05" y1="417.80" x2="166.05" y2="420.30" stroke="#111" stroke-width="0.7" />
<text x="166.05" y="427.10" font-size="5.5" text-anchor="middle" fill="#111" font-weight="bold">5</text>
<line x1="199.20" y1="417.80" x2="199.20" y2="420.30" stroke="#111" stroke-width="0.7" />
<text x="199.20" y="427.10" font-size="5.5" text-anchor="middle" fill="#111" font-weight="bold">10</text>
<line x1="232.35" y1="417.80" x2="232.35" y2="420.30" stroke="#111" stroke-width="0.7" />
<text x="232.35" y="427.10" font-size="5.5" text-anchor="middle" fill="#111" font-weight="bold">15</text>
<line x1="265.50" y1="417.80" x2="265.50" y2="420.30" stroke="#111" stroke-width="0.7" />
<text x="265.50" y="427.10" font-size="5.5" text-anchor="middle" fill="#111" font-weight="bold">20</text>
<text x="114.00" y="373.80" font-size="5.6" text-anchor="middle" fill="#111" font-weight="bold" transform="rotate(-90 114.00 373.80)">limma test FDR</text>
<text x="200.5" y="434.3" font-size="5.4" font-weight="bold" fill="#111" text-anchor="middle">log<tspan font-size="3.7" dy="1.2">2</tspan><tspan dy="-1.2">Fold Change (Biotin/Control)</tspan></text>
<polygon points="154.00,368.30 156.62,372.80 151.38,372.80" fill="#6a6a6a"/>
<polygon points="209.60,337.40 212.22,341.90 206.97,341.90" fill="#6a6a6a"/>
<circle cx="205.30" cy="346.30" r="2.3" fill="#6a6a6a"/>
<circle cx="206.30" cy="370.50" r="2.3" fill="#6a6a6a"/>
<circle cx="242.00" cy="417.00" r="1.9" fill="#6a6a6a"/>
<circle cx="249.00" cy="417.30" r="1.9" fill="#6a6a6a"/>
<rect x="214.45" y="378.85" width="4.30" height="4.30" fill="#6a6a6a"/>
<rect x="227.85" y="404.85" width="4.30" height="4.30" fill="#6a6a6a"/>
</g>
<g id="panelG">
<text x="264.10" y="309.30" font-size="12.2" fill="#111" font-weight="bold">G</text>
<line x1="307.20" y1="327.20" x2="307.20" y2="397.60" stroke="#111" stroke-width="0.8" />
<line x1="306.80" y1="397.60" x2="358.60" y2="397.60" stroke="#111" stroke-width="0.8" />
<line x1="304.90" y1="397.60" x2="307.20" y2="397.60" stroke="#111" stroke-width="0.7" />
<text x="304.00" y="399.60" font-size="5.6" text-anchor="end" fill="#111" font-weight="bold">4</text>
<line x1="304.90" y1="383.58" x2="307.20" y2="383.58" stroke="#111" stroke-width="0.7" />
<text x="304.00" y="385.58" font-size="5.6" text-anchor="end" fill="#111" font-weight="bold">5</text>
<line x1="304.90" y1="369.56" x2="307.20" y2="369.56" stroke="#111" stroke-width="0.7" />
<text x="304.00" y="371.56" font-size="5.6" text-anchor="end" fill="#111" font-weight="bold">6</text>
<line x1="304.90" y1="355.54" x2="307.20" y2="355.54" stroke="#111" stroke-width="0.7" />
<text x="304.00" y="357.54" font-size="5.6" text-anchor="end" fill="#111" font-weight="bold">7</text>
<line x1="304.90" y1="341.52" x2="307.20" y2="341.52" stroke="#111" stroke-width="0.7" />
<text x="304.00" y="343.52" font-size="5.6" text-anchor="end" fill="#111" font-weight="bold">8</text>
<line x1="304.90" y1="327.50" x2="307.20" y2="327.50" stroke="#111" stroke-width="0.7" />
<text x="304.00" y="329.50" font-size="5.6" text-anchor="end" fill="#111" font-weight="bold">9</text>
<line x1="320.20" y1="397.60" x2="320.20" y2="399.90" stroke="#111" stroke-width="0.7" />
<line x1="341.30" y1="397.60" x2="341.30" y2="399.90" stroke="#111" stroke-width="0.7" />
<text transform="translate(283.4 361.5) rotate(-90)" font-size="5.5" font-weight="bold" fill="#111" text-anchor="middle">log<tspan font-size="3.6" dy="1.2">10</tspan><tspan dy="-1.2">(mean total</tspan></text>
<text x="291.00" y="361.50" font-size="5.5" text-anchor="middle" fill="#111" font-weight="bold" transform="rotate(-90 291.00 361.50)">proteomics</text>
<text x="298.00" y="361.50" font-size="5.5" text-anchor="middle" fill="#111" font-weight="bold" transform="rotate(-90 298.00 361.50)">abundance)</text>
<circle cx="314.0" cy="336.3" r="1.15" fill="#111"/>
<circle cx="316.6" cy="338.2" r="1.15" fill="#111"/>
<circle cx="318.6" cy="337.4" r="1.15" fill="#111"/>
<circle cx="320.2" cy="339.0" r="1.15" fill="#111"/>
<circle cx="321.8" cy="337.6" r="1.15" fill="#111"/>
<circle cx="323.4" cy="338.3" r="1.15" fill="#111"/>
<circle cx="325.4" cy="337.0" r="1.15" fill="#111"/>
<circle cx="319.8" cy="355.3" r="1.15" fill="#111"/>
<line x1="313.00" y1="337.90" x2="326.50" y2="337.90" stroke="#111" stroke-width="0.5" />
<text x="343.90" y="379.20" font-size="5.9" text-anchor="middle" fill="#484848" transform="rotate(-90 343.90 379.20)" stroke="#484848" stroke-width="0.16">undetected</text>
<text x="322.60" y="402.00" font-size="6.1" text-anchor="end" fill="#111" font-weight="bold" transform="rotate(-45 322.60 402.00)">NRCAM Pr</text>
<text x="343.80" y="402.00" font-size="6.1" text-anchor="end" fill="#111" font-weight="bold" transform="rotate(-45 343.80 402.00)">NRCAM Alt</text>
<text x="316.60" y="432.40" font-size="6.15" text-anchor="middle" fill="#111" font-weight="bold">human brain regions</text>
</g>
<g id="panelH">
<text x="364.50" y="308.80" font-size="12.2" fill="#111" font-weight="bold">H</text>
<text x="430.30" y="305.80" font-size="6.1" text-anchor="middle" fill="#111" font-weight="bold">SH-SY5Y cell line as a model for</text>
<text x="430.30" y="312.30" font-size="6.1" text-anchor="middle" fill="#111" font-weight="bold">uptake and delivery</text>
<g fill="none" stroke="#7c7878" stroke-width="1.0" stroke-linejoin="round" stroke-linecap="round">
<path d="M399.9 389.9C397.7 388.2 393.4 387.9 390 390.8C386.8 394 386.8 399.8 389.4 403C391.9 405.9 397 406.8 399.9 405.6C402.8 406.8 408.3 405.9 410.8 403C413.4 399.8 413.4 394 410.4 390.8C407.2 387.9 402.5 388.2 399.9 389.9Z"/>
<path d="M389.7 391.1C386.8 387.9 382.5 386 378.4 386C374.5 386.1 370.8 388.9 368.5 392.1L369.4 393.4C373 391.1 377.4 389.9 381 390.4C383.9 390.8 386.1 392.5 387.7 394.7"/>
<path d="M410.7 391.1C413.7 388.2 417.4 386.4 421.4 386.1C426.1 386.1 429.7 391.1 433.4 395.2C435.6 397.6 437.6 399 439.6 399.6"/>
<path d="M412.7 393.7C415.9 391.4 419.5 390.2 423.2 390.5C426.8 391.1 430.5 396.2 434.8 399.8C436.4 401 438 401.4 439.6 401.5"/>
<path d="M389.1 402.4L382.2 406.5L383.6 408.3L390.6 404.2"/>
<path d="M411.3 402.4L417.7 406.5L416.2 408.3L409.8 404.2"/>
<path d="M399.3 398.4C398.2 396.2 397.3 393.7 395.8 392C394.1 392.5 393.5 395.2 394.1 396.9C394.7 398.7 392.9 401 393.5 403C394.8 404.8 397.3 403.9 398.2 401.6C398.5 400.5 398.9 399.5 399.3 399.2"/>
<path d="M400.8 398.4C401.9 396.2 402.8 393.7 404.3 392C406 392.5 406.6 395.2 406 396.9C405.4 398.7 407.2 401 406.6 403C405.3 404.8 402.8 403.9 401.9 401.6C401.7 400.5 401.2 399.5 400.8 399.2"/>
<path d="M399.3 398.6H400.8"/>
<rect x="439.6" y="398.3" width="15.6" height="3.2" rx="1.2"/>
</g>
<g fill="none" stroke="#1b9cd8" stroke-width="1.25" stroke-linejoin="round" stroke-linecap="round">
<path d="M387.9 356.5C388.5 352 392.5 346.9 398.1 344.6C403.8 342 412.9 341.2 419.1 344.3C424.2 346.9 427.1 352 426.3 356.5C425.8 359.4 423.7 361.3 420.8 362C419.1 363.9 414 365 408.9 364.7C405.5 364.7 402.7 364.3 401 363.3C398.1 363.9 394.2 363.3 391.9 362.2C389.6 360.5 387.7 358.8 387.9 356.5Z" fill="#fff"/>
<path d="M398.7 356.8C402.1 355.4 406.1 354.3 409.7 354.5C413.4 355.2 417.2 357.7 417.9 361.8"/>
<path d="M394.5 348.4L396.1 350.4M392.2 353.1L395.9 354.3M409.5 343.8L411.3 346.3M417.4 348.8L420.4 346.3M397 359.4L398.7 361.8M400 360.6L401.1 362.4"/>
<path d="M392.2 362.4C391.9 365.6 394.2 368.4 398.1 369C401 369.2 403.2 367.9 404 365.4"/>
<path d="M403.2 364.7C402.7 367.9 402.1 370.7 401.5 373L404.4 373.5C405.5 370.7 407.2 367.9 408.6 365"/>
</g>
<g fill="none" stroke="#1aab4b" stroke-width="1.1" stroke-linecap="round" stroke-linejoin="round">
<path d="M404.6 368.5C403.4 371 402.2 374 401.6 377C400.9 381 399.9 384.5 400.5 388.2C401.1 392.5 404.3 393.1 407.5 392.3C411.5 391.1 415.9 387 420.3 386.1C425.4 386.1 429 390.8 432.6 394.7C435.6 398 438.4 399.6 441.5 400C446 400.8 452 400.7 457 400C460.5 399.6 463 397.5 465.6 395.4"/>
<path d="M402.8 374.5L405.6 369.5"/>
</g>
<circle cx="420.2" cy="385.6" r="1.1" fill="#1aab4b"/><circle cx="466.2" cy="394.9" r="1.3" fill="#1aab4b"/>
<text x="427.20" y="352.00" font-size="6.1" fill="#1b9cd8" stroke="#1b9cd8" stroke-width="0.16">Brain</text>
<text x="435.00" y="361.60" font-size="6.1" fill="#333" stroke="#333" stroke-width="0.16">SH-SY5Y cell</text>
<text x="408.00" y="383.00" font-size="6.1" fill="#1aab4b" stroke="#1aab4b" stroke-width="0.16">DRG neuron</text>
<text x="379.60" y="413.80" font-size="5.8" fill="#9a9696" stroke="#9a9696" stroke-width="0.16">spinal cord</text>
<text x="430.30" y="409.50" font-size="6.0" fill="#9a9696" stroke="#9a9696" stroke-width="0.16">peripheral nerve</text>
<path d="M463.5 336C457.6 330.3 446.5 329.9 439 335.3L436.9 331.9L433.7 343.5L446 341.4L442.5 339.2C448.8 335.3 456.8 335.3 463.5 336Z" fill="#847d79"/>
<path d="M474.6 364.1C473.5 371.3 467.9 377.6 454.4 381.1L454.1 378.9L447.2 382.7L453.9 386.5L454.2 384C468.7 380.2 475.5 372.1 475.9 364.6Z" fill="#aeaaaa"/>
<path d="M453.6 343.8C460 343 466 341.5 470.6 339.5C473.5 342 481 345.8 490.3 347C487.5 348.8 485.6 350.2 484.9 351.5C484 354.5 483.6 357.5 483.6 360.8C480.5 358.6 478 357.4 474.7 356.6C470 355.8 464.5 354.2 460.4 352C459 349 456.5 346 453.6 343.8Z" fill="#fff" stroke="#222" stroke-width="0.7" stroke-linejoin="round"/>
<circle cx="471" cy="348.6" r="3.9" fill="#524e4e" stroke="#222" stroke-width="0.6"/>
<rect x="478.80" y="343.80" width="5.40" height="5.50" fill="none" stroke="#333" stroke-width="0.55" stroke-dasharray="1.1 1"/>
<line x1="480.20" y1="343.40" x2="495.40" y2="303.60" stroke="#333" stroke-width="0.8" stroke-dasharray="1.7 1.5"/>
<line x1="484.40" y1="353.50" x2="495.40" y2="396.00" stroke="#333" stroke-width="0.8" stroke-dasharray="1.7 1.5"/>
<rect x="495.60" y="303.50" width="49.20" height="92.50" fill="none" stroke="#333" stroke-width="0.9" stroke-dasharray="1.7 1.5"/>
<text x="498.00" y="308.80" font-size="6.0" fill="#222" stroke="#222" stroke-width="0.16">Extracellular</text>
<path d="M511.60 341.00Q515.12 340.24 511.60 339.48Q508.08 338.71 511.60 337.95Q515.12 337.19 511.60 336.43Q508.08 335.66 511.60 334.90Q515.12 334.14 511.60 333.38Q508.08 332.61 511.60 331.85Q515.12 331.09 511.60 330.32Q508.08 329.56 511.60 328.80Q515.12 328.04 511.60 327.27Q508.08 326.51 511.60 325.75Q515.12 324.99 511.60 324.22Q508.08 323.46 511.60 322.70Q515.12 321.94 511.60 321.17Q508.08 320.41 511.60 319.65Q515.12 318.89 511.60 318.12Q508.08 317.36 511.60 316.60" fill="none" stroke="#222" stroke-width="0.75"/>
<path d="M511.6 341V343.6" stroke="#222" stroke-width="0.75"/>
<path d="M522.60 338.60Q525.96 337.87 522.60 337.14Q519.24 336.41 522.60 335.68Q525.96 334.95 522.60 334.22Q519.24 333.49 522.60 332.76Q525.96 332.03 522.60 331.29Q519.24 330.56 522.60 329.83Q525.96 329.10 522.60 328.37Q519.24 327.64 522.60 326.91Q525.96 326.18 522.60 325.45Q519.24 324.72 522.60 323.99Q525.96 323.26 522.60 322.53Q519.24 321.80 522.60 321.07Q525.96 320.34 522.60 319.61Q519.24 318.88 522.60 318.14Q525.96 317.41 522.60 316.68Q519.24 315.95 522.60 315.22Q525.96 314.49 522.60 313.76Q519.24 313.03 522.60 312.30" fill="none" stroke="#908c8c" stroke-width="0.55"/>
<path d="M522.6 338.6V340" stroke="#908c8c" stroke-width="0.55"/>
<rect x="510.30" y="343.60" width="4.00" height="2.60" fill="#151515"/>
<rect x="510.30" y="347.00" width="4.00" height="2.60" fill="#151515"/>
<rect x="510.30" y="350.40" width="4.00" height="2.60" fill="#151515"/>
<rect x="510.30" y="353.80" width="4.00" height="2.60" fill="#151515"/>
<rect x="510.30" y="357.20" width="4.00" height="2.60" fill="#151515"/>
<rect x="521.00" y="339.80" width="4.00" height="2.60" fill="#9a9494"/>
<rect x="521.00" y="343.20" width="4.00" height="2.60" fill="#9a9494"/>
<rect x="521.00" y="346.60" width="4.00" height="2.60" fill="#9a9494"/>
<rect x="521.00" y="350.00" width="4.00" height="2.60" fill="#9a9494"/>
<rect x="521.00" y="353.40" width="4.00" height="2.60" fill="#9a9494"/>
<rect x="521.00" y="356.80" width="4.00" height="2.60" fill="#9a9494"/>
<text x="501.40" y="361.20" font-size="5.1" fill="#222" font-style="italic">Alt</text>
<text x="527.40" y="361.20" font-size="5.1" fill="#999" font-style="italic">Pr</text>
<path d="M537.1 362V355.40000000000003" stroke="#e02a2e" stroke-width="1.1" fill="none"/><path d="M534.5 357.6L537.1 354.8L539.7 357.6" stroke="#e02a2e" stroke-width="1.1" fill="none" stroke-linejoin="miter"/>
<path d="M495.6 365.2C510 361 530 361 544.8 365.2" fill="none" stroke="#111" stroke-width="0.9"/>
<path d="M518.6 377V370" stroke="#111" stroke-width="0.9"/><polygon points="516.4,370.6 518.6,366.4 520.8,370.6" fill="#111"/>
<path d="M502 382.6C504.2 380.6 506.4 380.6 508.6 382.6C510.8 384.6 513 384.6 515.2 382.6C516.7 381.2 518.2 380.8 519.8 381.6" fill="none" stroke="#111" stroke-width="0.9"/>
<path d="M523.8 385V377.6" stroke="#e02a2e" stroke-width="1.1" fill="none"/><path d="M521.1999999999999 379.8L523.8 377L526.4 379.8" stroke="#e02a2e" stroke-width="1.1" fill="none" stroke-linejoin="miter"/>
<path d="M502 391.8C505.5 389.8 509 389.8 512.5 391.8C516 393.8 519.5 393.8 523 391.8C525.3 390.5 527.6 390.3 530 391" fill="none" stroke="#aaa" stroke-width="0.6"/>
<text x="495.60" y="406.30" font-size="6.15" fill="#222" stroke="#222" stroke-width="0.16">Neuroblastoma</text>
<text x="495.60" y="412.75" font-size="6.15" fill="#222" stroke="#222" stroke-width="0.16">specific</text>
<text x="495.60" y="419.20" font-size="6.15" fill="#222" stroke="#222" stroke-width="0.16">expression of</text>
<text x="495.60" y="425.65" font-size="6.15" fill="#222" stroke="#222" stroke-width="0.16">alt NRCAM</text>
</g>
</svg>
</body></html>
